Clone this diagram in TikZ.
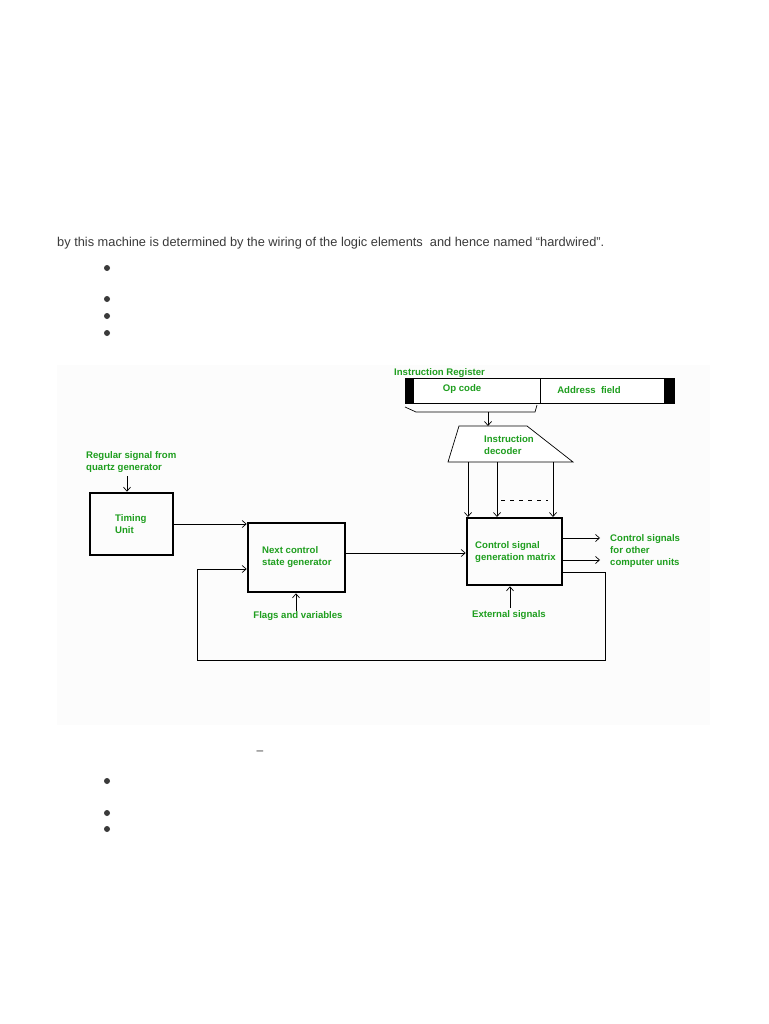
\documentclass[tikz,border=0pt]{standalone}
\usepackage{fontspec}
\setmainfont{Liberation Sans}
\usetikzlibrary{arrows.meta}
\definecolor{gg}{HTML}{1E9E1E}
\definecolor{txt}{HTML}{3A3A3A}
\begin{document}
\begin{tikzpicture}[x=1pt,y=-1pt,
  lbl/.style={text=gg,font=\bfseries\fontsize{9.6}{11.8}\selectfont,inner sep=0pt,align=left},
  thick box/.style={draw,line width=2.6pt},
  arr/.style={-{Straight Barb[length=4pt,width=7pt]},line width=0.7pt},
  ln/.style={line width=0.7pt},
  dot/.style={circle,fill=txt,inner sep=0pt,minimum size=6pt}]
\useasboundingbox (0,0) rectangle (768,1024);
\fill[white] (0,0) rectangle (768,1024);
\fill[gray!2] (57,365) rectangle (710,725);
\node[anchor=west,text=txt,font=\fontsize{12.8}{15}\selectfont,inner sep=0pt] (intro) at (57,243) {by this machine is determined by the wiring of the logic elements\ \ and hence named “hardwired”.};
\foreach \y [count=\i] in {268,299,316,333,781,813,829} \node[dot] (b\i) at (107,\y) {};
\node[text=txt,inner sep=0pt,font=\fontsize{12}{14}\selectfont] (dash) at (260,753) {–};
% instruction register
\draw[ln,fill=white] (405,378) rectangle (674,403);
\fill (405,378) rectangle (414,403);
\fill (664,378) rectangle (674,403);
\draw[ln] (540,378) -- (540,403);
\node[lbl,anchor=west] (irl) at (394,373) {Instruction Register};
\node[lbl] (op) at (462,389) {Op code};
\node[lbl] (af) at (589,390) {Address\ \ field};
\draw[ln] (405,407) -- (416,412) -- (535,412) -- (537,405);
\coordinate (br) at (488,412);
% decoder
\draw[ln,fill=white] (459,426) -- (527,426) -- (573,462) -- (448,462) -- cycle;
\node[lbl,anchor=west] (dec) at (484,445) {Instruction\\decoder};
\coordinate (dtop) at (488,426);
\draw[arr] (br) -- (dtop);
% control matrix
\node[thick box,minimum width=95pt,minimum height=67pt,inner sep=0pt] (cm) at (514.5,551.5) {};
\node[lbl,anchor=west] (cmt) at (475,552) {Control signal\\generation matrix};
\foreach \x in {468,497,553} \draw[arr] (\x,462) -- (\x,517);
\draw[ln,dash pattern=on 4pt off 5pt] (501,500) -- (548,500);
\coordinate (o1) at (600,538);
\coordinate (o2) at (600,560);
\draw[arr] (cm.east|-o1) -- (o1);
\draw[arr] (cm.east|-o2) -- (o2);
\node[lbl,anchor=west] (cs) at (610,551) {Control signals\\for other\\computer units};
\node[lbl] (ext) at (509,615) {External signals};
\draw[arr] (510,608) -- (cm.south-|510,0);
% timing
\node[thick box,minimum width=83pt,minimum height=62pt,inner sep=0pt] (tu) at (131.5,524) {};
\node[lbl,anchor=west] (tut) at (115,524) {Timing\\Unit};
\node[lbl,anchor=west] (rs) at (86,462) {Regular signal from\\quartz generator};
\draw[arr] (127,476) -- (tu.north-|127,0);
% next control
\node[thick box,minimum width=97pt,minimum height=69pt,inner sep=0pt] (nc) at (296.5,557.5) {};
\node[lbl,anchor=west] (nct) at (262,557) {Next control\\state generator};
\node[lbl] (fl) at (298,616) {Flags and variables};
\draw[arr] (296,611) -- (nc.south-|296,0);
\draw[arr] (tu.east|-0,524) -- (nc.west|-0,524);
\draw[arr] (nc.east|-0,553) -- (cm.west|-0,553);
\draw[arr] (cm.east|-0,572) -- (605,572) -- (605,660) -- (197,660) -- (197,569) -- (nc.west|-0,569);
\end{tikzpicture}
\end{document}
